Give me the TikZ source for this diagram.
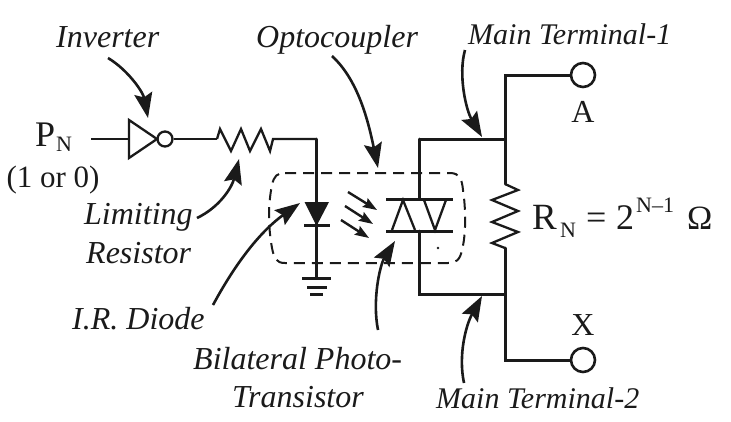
\documentclass[tikz,border=0pt]{standalone}
\usepackage{fontspec}
\setmainfont{Liberation Serif}
\usetikzlibrary{arrows.meta}
\newcommand{\fsz}[1]{\fontsize{#1}{#1}\selectfont}
\definecolor{ink}{HTML}{1A1A1A}
\tikzset{
  wire/.style={draw=ink,line width=3pt,line cap=round,line join=miter},
  thin wire/.style={draw=ink,line width=2.3pt,line join=miter},
  lead/.style={draw=ink,line width=2.6pt,-{Stealth[length=25pt,width=18pt,inset=4pt]}},
  ray/.style={draw=ink,line width=2.4pt,-{Stealth[length=14pt,width=10pt,inset=2pt]}},
  ital/.style={anchor=base west,inner sep=0pt,text=ink,font=\fsz{32}\itshape},
  rom/.style={anchor=base,inner sep=0pt,text=ink,font=\fsz{32}},
  term/.style={circle,draw=ink,line width=2.6pt,fill=white,minimum size=24pt,inner sep=0pt},
  bubble/.style={circle,draw=ink,line width=2.3pt,fill=white,minimum size=15pt,inner sep=0pt}
}
\begin{document}
\begin{tikzpicture}[x=1pt,y=-1pt]
\useasboundingbox (0,0) rectangle (731,421);
% coordinates
\coordinate (in) at (91,139);
\coordinate (ga) at (129,120);
\coordinate (gb) at (129,158);
\coordinate (gm) at (129,139);
\coordinate (gt) at (157,139);
\coordinate (r1a) at (217,139);
\coordinate (r1b) at (273,139);
\coordinate (dtop) at (316.5,139);
\coordinate (gnd) at (316.5,278);
\coordinate (tt) at (419.5,139);
\coordinate (tb) at (419.5,294);
\coordinate (j1) at (505,139);
\coordinate (j2) at (505,294);
\coordinate (top) at (505,75);
\coordinate (bot) at (505,360);
\coordinate (r2a) at (505,184);
\coordinate (r2b) at (505,248);
\node[term] (A) at (583,75) {};
\node[term] (X) at (583,360) {};
\node[bubble] (inv) at (165,139) {};
% wires
\draw[thin wire] (in) -- (gm);
\draw[thin wire,line join=miter] (ga) -- (gt) -- (gb) -- cycle;
\draw[thin wire] (inv) -- (r1a);
\draw[thin wire] (r1a) -- (220,129) -- (231,151) -- (241,129) -- (250,151) -- (261,129) -- (270,151) -- (r1b) -- (dtop);
\draw[wire] (dtop) -- (gnd);
\draw[wire] (tt) -- (j1);
\draw[wire] (tt) -- (419.5,199);
\draw[wire] (419.5,231) -- (tb) -- (j2);
\draw[wire] (A) -- (top) -- (r2a);
\draw[wire] (r2b) -- (bot) -- (X);
\draw[thin wire] (r2a) -- (518,190) -- (492,200) -- (518,211) -- (492,222) -- (518,232) -- (492,243) -- (r2b);
% ground
\draw[wire,line cap=butt] (302,278) -- (331,278);
\draw[wire,line cap=butt] (307,287) -- (327,287);
\draw[wire,line cap=butt] (310,294.5) -- (323,294.5);
% diode
\fill[ink] (304.5,202) -- (329,202) -- (316.5,226) -- cycle;
\draw[wire,line cap=butt] (304,225.5) -- (330,225.5);
% dashed package
\draw[draw=ink,line width=2pt,dash pattern=on 11pt off 7pt]
  (285,173) -- (450,173) .. controls (460,173) and (462,180) .. (463,190)
  .. controls (466,210) and (466,235) .. (462,250)
  .. controls (460,260) and (456,263) .. (448,263)
  -- (285,263) .. controls (276,263) and (274,258) .. (272,248)
  .. controls (268,225) and (268,205) .. (272,185)
  .. controls (274,176) and (277,173) .. (285,173) -- cycle;
% light rays
\draw[ray] (348,192) -- (377,210);
\draw[ray] (345,206) -- (373,224);
\draw[ray] (341,220) -- (369,238);
% photo-transistor
\draw[wire,line cap=butt] (386,199.5) -- (453,199.5);
\draw[wire,line cap=butt] (386,231) -- (453,231);
\draw[thin wire] (392,230) -- (403,200) -- (415,230);
\draw[thin wire] (424,200) -- (435,230) -- (446,200);
\fill[ink] (438,248) circle (1.3pt);
% labels
\node[rom,anchor=base west,font=\fsz{36}] (pn) at (35,146) {P};
\node[rom,anchor=base west,font=\fsz{22}] (pnn) at (56,151) {N};
\node[rom,font=\fsz{31}] (pval) at (53,187) {(1 or 0)};
\node[ital] (linv) at (56,47) {Inverter};
\node[ital] (lopt) at (256,47) {Optocoupler};
\node[ital,font=\fsz{30}\itshape] (lmt1) at (468,44) {Main Terminal-1};
\node[ital] (llim) at (84,224) {Limiting};
\node[ital] (lres) at (86,263) {Resistor};
\node[ital] (lird) at (72,329) {I.R. Diode};
\node[ital] (lbil) at (193,369) {Bilateral Photo-};
\node[ital] (ltra) at (232,407) {Transistor};
\node[ital,font=\fsz{30}\itshape] (lmt2) at (436,408) {Main Terminal-2};
\node[rom] (la) at (583,122) {A};
\node[rom] (lx) at (583,335) {X};
\node[rom,anchor=base west,font=\fsz{37}] (rr) at (532,229) {R};
\node[rom,anchor=base west,font=\fsz{22}] (rn) at (560,237) {N};
\node[rom,anchor=base west,font=\fsz{36}] (req) at (586,229) {=};
\node[rom,anchor=base west,font=\fsz{36}] (r2) at (616,229) {2};
\node[rom,anchor=base west,font=\fsz{22}] (rexp) at (636,212) {N–1};
\node[rom,anchor=base west,font=\fsz{34}] (rom) at (687,229) {Ω};
% lead arrows
\coordinate (sinv) at (108,58);
\coordinate (einv) at (148,118);
\coordinate (sopt) at (332,56);
\coordinate (eopt) at (378,168);
\coordinate (smt1) at (465,50);
\coordinate (emt1) at (482,137);
\coordinate (smt2) at (464,383);
\coordinate (emt2) at (482,296);
\coordinate (slim) at (197,218);
\coordinate (elim) at (239,159);
\coordinate (sird) at (213,305);
\coordinate (eird) at (300,203);
\coordinate (sbil) at (378,330);
\coordinate (ebil) at (395,241);
\draw[lead] (sinv) .. controls (128,70) and (143,92) .. (einv);
\draw[lead] (sopt) .. controls (358,80) and (368,120) .. (eopt);
\draw[lead] (smt1) .. controls (458,75) and (466,110) .. (emt1);
\draw[lead] (smt2) .. controls (458,355) and (466,325) .. (emt2);
\draw[lead] (slim) .. controls (220,207) and (232,187) .. (elim);
\draw[lead] (sird) .. controls (240,255) and (265,228) .. (eird);
\draw[lead] (sbil) .. controls (372,300) and (380,265) .. (ebil);
\end{tikzpicture}
\end{document}
